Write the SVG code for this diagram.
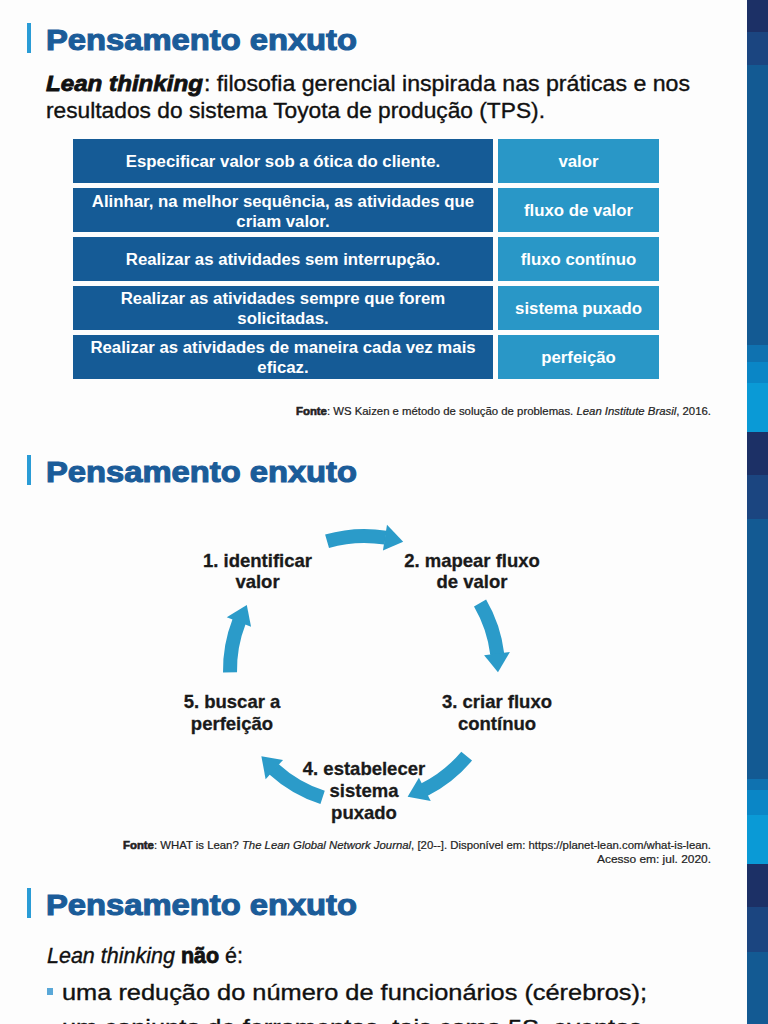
<svg xmlns="http://www.w3.org/2000/svg" width="768" height="1024" viewBox="0 0 768 1024">
<style>
.title{font-family:"Liberation Sans",Arial,sans-serif;font-weight:bold;font-size:29px;fill:#1b5c99;stroke:#1b5c99;stroke-width:1.1px}
.bar{fill:#2a9cd6}
.body{font-family:"Liberation Sans",Arial,sans-serif;font-size:21.5px;fill:#111;stroke:#111;stroke-width:0.35px}
.heavy{font-weight:bold;stroke:#111;stroke-width:0.8px}
.cellL{fill:#155b96}
.cellR{fill:#2997c7}
.ct{font-family:"Liberation Sans",Arial,sans-serif;font-weight:bold;font-size:16.8px;fill:#fff;text-anchor:middle}
.note{font-family:"Liberation Sans",Arial,sans-serif;font-size:11px;fill:#222;stroke:#222;stroke-width:0.2px;text-anchor:end}
.step{font-family:"Liberation Sans",Arial,sans-serif;font-weight:bold;font-size:18.5px;fill:#1a1a1a;stroke:#1a1a1a;stroke-width:0.3px;text-anchor:middle}
.arc{fill:none;stroke:#2b9bc9;stroke-width:14}
.head{fill:#2b9bc9}
</style>
<rect width="768" height="1024" fill="#fdfdfd"/>
<!-- right stripe -->
<g id="stripe">
<rect x="747" y="0" width="21" height="32" fill="#1c3066"/>
<rect x="747" y="32" width="21" height="33" fill="#1b4580"/>
<rect x="747" y="65" width="21" height="280" fill="#135a93"/>
<rect x="747" y="345" width="21" height="17" fill="#0f72b0"/>
<rect x="747" y="362" width="21" height="21" fill="#0a86c6"/>
<rect x="747" y="383" width="21" height="49" fill="#0a9ad6"/>
<rect x="747" y="432" width="21" height="43" fill="#1c3066"/>
<rect x="747" y="475" width="21" height="44" fill="#1b4580"/>
<rect x="747" y="519" width="21" height="260" fill="#135a93"/>
<rect x="747" y="779" width="21" height="11" fill="#0f72b0"/>
<rect x="747" y="790" width="21" height="25" fill="#0a86c6"/>
<rect x="747" y="815" width="21" height="49" fill="#0a9ad6"/>
<rect x="747" y="864" width="21" height="43" fill="#1c3066"/>
<rect x="747" y="907" width="21" height="45" fill="#1b4580"/>
<rect x="747" y="952" width="21" height="72" fill="#135a93"/>
</g>
<!-- section 1 -->
<g id="title1">
<rect class="bar" x="27" y="23" width="4" height="30"/>
<text class="title" x="46" y="50" textLength="311" lengthAdjust="spacingAndGlyphs">Pensamento enxuto</text>
</g>
<g id="intro">
<text class="body heavy" x="46" y="91" font-style="italic" textLength="157" lengthAdjust="spacingAndGlyphs">Lean thinking</text>
<text class="body" x="204" y="91" textLength="486" lengthAdjust="spacingAndGlyphs">: filosofia gerencial inspirada nas práticas e nos</text>
<text class="body" x="46" y="118" textLength="499" lengthAdjust="spacingAndGlyphs">resultados do sistema Toyota de produção (TPS).</text>
</g>
<g id="row1">
<rect class="cellL" x="73" y="139" width="420" height="44"/>
<rect class="cellR" x="498" y="139" width="161" height="44"/>
<text class="ct" x="283" y="167">Especificar valor sob a ótica do cliente.</text>
<text class="ct" x="578.5" y="167">valor</text>
</g>
<g id="row2">
<rect class="cellL" x="73" y="188" width="420" height="44"/>
<rect class="cellR" x="498" y="188" width="161" height="44"/>
<text class="ct" x="283" y="207">Alinhar, na melhor sequência, as atividades que</text>
<text class="ct" x="283" y="227">criam valor.</text>
<text class="ct" x="578.5" y="216">fluxo de valor</text>
</g>
<g id="row3">
<rect class="cellL" x="73" y="237" width="420" height="44"/>
<rect class="cellR" x="498" y="237" width="161" height="44"/>
<text class="ct" x="283" y="265">Realizar as atividades sem interrupção.</text>
<text class="ct" x="578.5" y="265">fluxo contínuo</text>
</g>
<g id="row4">
<rect class="cellL" x="73" y="286" width="420" height="44"/>
<rect class="cellR" x="498" y="286" width="161" height="44"/>
<text class="ct" x="283" y="304">Realizar as atividades sempre que forem</text>
<text class="ct" x="283" y="324">solicitadas.</text>
<text class="ct" x="578.5" y="314">sistema puxado</text>
</g>
<g id="row5">
<rect class="cellL" x="73" y="335" width="420" height="44"/>
<rect class="cellR" x="498" y="335" width="161" height="44"/>
<text class="ct" x="283" y="353">Realizar as atividades de maneira cada vez mais</text>
<text class="ct" x="283" y="373">eficaz.</text>
<text class="ct" x="578.5" y="363">perfeição</text>
</g>
<g id="source1">
<text class="note" x="711" y="415" textLength="415" lengthAdjust="spacingAndGlyphs"><tspan font-weight="bold" stroke-width="0.6">Fonte</tspan>: WS Kaizen e método de solução de problemas. <tspan font-style="italic">Lean Institute Brasil</tspan>, 2016.</text>
</g>
<!-- section 2 -->
<g id="title2">
<rect class="bar" x="27" y="455" width="4" height="30"/>
<text class="title" x="46" y="482" textLength="311" lengthAdjust="spacingAndGlyphs">Pensamento enxuto</text>
</g>
<g id="connectors">
<path class="arc" d="M327.06 541.19 A134 134 0 0 1 385.5 537.6"/>
<polygon class="head" points="387.00,524.81 403.18,541.86 382.93,550.49"/>
<path class="arc" d="M480.05 603 A134 134 0 0 1 497.3 654.5"/>
<polygon class="head" points="509.90,652.09 497.98,672.34 484.10,655.25"/>
<path class="arc" d="M466.65 756.13 A134 134 0 0 1 424.2 789.8"/>
<polygon class="head" points="430.74,800.98 407.63,796.70 418.93,777.81"/>
<path class="arc" d="M322.59 797.44 A134 134 0 0 1 273.8 769.1"/>
<polygon class="head" points="265.64,779.24 261.35,756.13 283.04,759.92"/>
<path class="arc" d="M230.02 672.34 A134 134 0 0 1 239.2 621.3"/>
<polygon class="head" points="226.76,617.32 246.80,605.04 251.04,626.64"/>
</g>
<g id="step1">
<text class="step" x="257.5" y="567">1. identificar</text>
<text class="step" x="257.5" y="588">valor</text>
</g>
<g id="step2">
<text class="step" x="472" y="567">2. mapear fluxo</text>
<text class="step" x="472" y="588">de valor</text>
</g>
<g id="step3">
<text class="step" x="497" y="708">3. criar fluxo</text>
<text class="step" x="497" y="730">contínuo</text>
</g>
<g id="step4">
<text class="step" x="364" y="775">4. estabelecer</text>
<text class="step" x="364" y="797">sistema</text>
<text class="step" x="364" y="819">puxado</text>
</g>
<g id="step5">
<text class="step" x="232" y="708">5. buscar a</text>
<text class="step" x="232" y="730">perfeição</text>
</g>
<g id="source2">
<text class="note" x="711" y="849" textLength="588" lengthAdjust="spacingAndGlyphs"><tspan font-weight="bold" stroke-width="0.6">Fonte</tspan>: WHAT is Lean? <tspan font-style="italic">The Lean Global Network Journal</tspan>, [20--]. Disponível em: https://planet-lean.com/what-is-lean.</text>
<text class="note" x="711" y="863" textLength="114" lengthAdjust="spacingAndGlyphs">Acesso em: jul. 2020.</text>
</g>
<!-- section 3 -->
<g id="title3">
<rect class="bar" x="27" y="888" width="4" height="30"/>
<text class="title" x="46" y="915" textLength="311" lengthAdjust="spacingAndGlyphs">Pensamento enxuto</text>
</g>
<g id="notlist">
<text class="body" x="47" y="963" font-size="22"><tspan font-style="italic">Lean thinking</tspan> <tspan class="heavy">não</tspan> é:</text>
<rect x="47" y="988" width="6" height="7" fill="#5aa8d8"/>
<text class="body" x="62" y="1000" font-size="22.5" textLength="585" lengthAdjust="spacingAndGlyphs">uma redução do número de funcionários (cérebros);</text>
<text class="body" x="62" y="1035" font-size="22.5" textLength="580" lengthAdjust="spacingAndGlyphs">um conjunto de ferramentas, tais como 5S, eventos</text>
</g>
</svg>
